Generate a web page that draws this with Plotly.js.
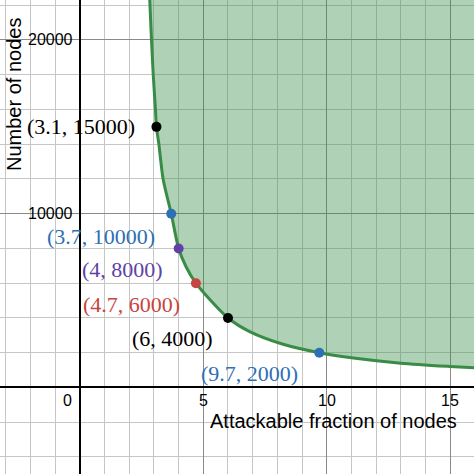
<!DOCTYPE html>
<html>
<head>
<meta charset="utf-8">
<script src="https://cdn.plot.ly/plotly-3.0.1.min.js"></script>
<style>
  html, body { margin: 0; padding: 0; background: #fff; }
  #chart { width: 474px; height: 474px; }
</style>
</head>
<body>
<div id="chart"></div>
<script>
// boundary curve
const curveX = [2.80, 2.83, 2.9, 2.97, 3.06, 3.1, 3.2, 3.37, 3.7, 4.0, 4.3, 4.7, 5.3, 6.0, 6.9, 8.2, 9.7, 11.0, 13.0, 15.0, 16.2];
const curveY = [23500, 22300, 20000, 18000, 16000, 15000, 14000, 12000, 10000, 8000, 6950, 6000, 5000, 4000, 3200, 2500, 2000, 1710, 1400, 1210, 1120];

// labelled points
const pointX = [3.1, 3.7, 4, 4.7, 6, 9.7];
const pointY = [15000, 10000, 8000, 6000, 4000, 2000];

// axis tick labels
const xTicks = [5, 10, 15];
const yTicks = [10000, 20000];

const xTitle = "Attackable fraction of nodes";
const yTitle = "Number of nodes";

// styles
const GREEN = "#388c46";
const pointColors = ["#000000", "#2d70b3", "#6042a6", "#c74440", "#000000", "#2d70b3"];
const labelShift = [[-19, 0], [-14, -23], [-14, -21], [-14, -21], [-13, -21], [-19, -21]];

const X_RANGE = [-3.24, 15.97];
const Y_RANGE = [-4980, 22300];
const FILL_TOP = 24000;

// shaded region above the curve
const fillX = curveX.concat([curveX[curveX.length - 1], curveX[0]]);
const fillY = curveY.concat([FILL_TOP, FILL_TOP]);

const traces = [
  {
    x: fillX, y: fillY,
    type: "scatter", mode: "lines",
    fill: "toself",
    fillcolor: "rgba(56,140,70,0.4)",
    line: { width: 0, color: "rgba(0,0,0,0)" },
    hoverinfo: "skip",
  },
  {
    x: curveX, y: curveY,
    type: "scatter", mode: "lines",
    line: { color: GREEN, width: 3, shape: "spline", smoothing: 0.8 },
  },
  {
    x: pointX, y: pointY,
    type: "scatter", mode: "markers",
    marker: { color: pointColors, size: 10 },
  },
];

const annotations = [];

pointX.forEach((x, i) => {
  annotations.push({
    x, y: pointY[i], xref: "x", yref: "y",
    text: `(${x}, ${pointY[i]})`,
    showarrow: false,
    xanchor: "right", yanchor: "middle",
    xshift: labelShift[i][0], yshift: labelShift[i][1],
    font: { family: "Liberation Serif, serif", size: 22, color: pointColors[i] },
  });
});

const tickFont = { family: "Liberation Sans, Arial, sans-serif", size: 16, color: "#000" };

annotations.push({
  x: 0, y: 0, xref: "x", yref: "y", text: "0", showarrow: false,
  xanchor: "right", yanchor: "top", xshift: -6, yshift: -3, font: tickFont,
});
xTicks.forEach((v) => {
  annotations.push({
    x: v, y: 0, xref: "x", yref: "y", text: String(v), showarrow: false,
    xanchor: "center", yanchor: "top", yshift: -3, font: tickFont,
  });
});
yTicks.forEach((v) => {
  annotations.push({
    x: 0, y: v, xref: "x", yref: "y", text: String(v), showarrow: false,
    xanchor: "right", yanchor: "middle", xshift: -5, font: tickFont,
  });
});

const titleFont = { family: "Liberation Sans, Arial, sans-serif", size: 20, color: "#000" };
annotations.push({
  x: 0.439, y: 0.112, xref: "paper", yref: "paper", text: xTitle, showarrow: false,
  xanchor: "left", yanchor: "middle", font: titleFont,
});
annotations.push({
  x: 0.03, y: 0.80, xref: "paper", yref: "paper", text: yTitle, showarrow: false,
  textangle: -90, xanchor: "center", yanchor: "middle", font: titleFont,
});

const layout = {
  width: 474,
  height: 474,
  margin: { t: 0, r: 0, b: 0, l: 0 },
  paper_bgcolor: "#ffffff",
  plot_bgcolor: "#ffffff",
  showlegend: false,
  xaxis: {
    range: X_RANGE,
    dtick: 5, tick0: 0,
    showgrid: true, gridcolor: "#8a8a8a", gridwidth: 1,
    minor: { dtick: 1, tick0: 0, showgrid: true, gridcolor: "#c6c6c6", gridwidth: 1 },
    zeroline: true, zerolinecolor: "#000", zerolinewidth: 2,
    showticklabels: false, ticks: "",
    showline: false,
  },
  yaxis: {
    range: Y_RANGE,
    dtick: 10000, tick0: 0,
    showgrid: true, gridcolor: "#8a8a8a", gridwidth: 1,
    minor: { dtick: 2000, tick0: 0, showgrid: true, gridcolor: "#c6c6c6", gridwidth: 1 },
    zeroline: true, zerolinecolor: "#000", zerolinewidth: 2,
    showticklabels: false, ticks: "",
    showline: false,
  },
  annotations,
};

Plotly.newPlot("chart", traces, layout, { displayModeBar: false, staticPlot: true });
</script>
</body>
</html>
